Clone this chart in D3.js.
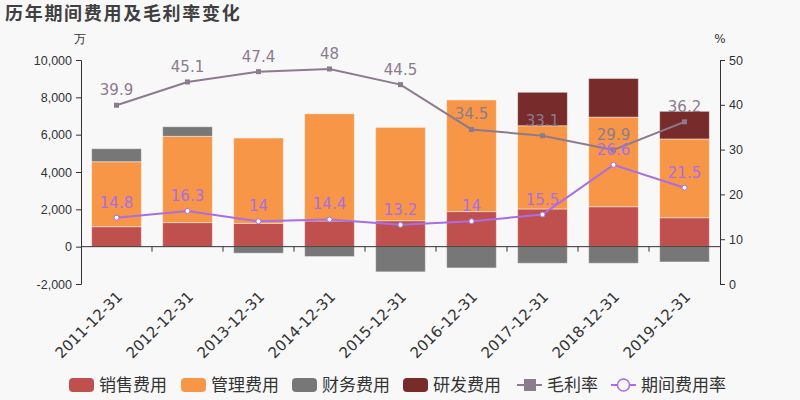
<!DOCTYPE html>
<html>
<head>
<meta charset="utf-8">
<script src="https://cdn.jsdelivr.net/npm/d3@7"></script>
<style>
  body { margin: 0; background: #f8f8f8; }
  svg { display: block; font-family: "DejaVu Sans", sans-serif; }
</style>
</head>
<body>
<script>
const WIDTH = 800;
const HEIGHT = 400;

// 数据
const years = ["2011-12-31", "2012-12-31", "2013-12-31", "2014-12-31", "2015-12-31",
  "2016-12-31", "2017-12-31", "2018-12-31", "2019-12-31"];
const xiaoshou = [1070, 1290, 1250, 1380, 1390, 1880, 2020, 2140, 1550];
const guanli = [3480, 4620, 4570, 5740, 5000, 5980, 4460, 4800, 4220];
const caiwu = [700, 515, -350, -530, -1350, -1140, -890, -890, -820];
const yanfa = [0, 0, 0, 0, 0, 0, 1790, 2070, 1480];
const maolilv = [39.9, 45.1, 47.4, 48, 44.5, 34.5, 33.1, 29.9, 36.2];
const qijianlv = [14.8, 16.3, 14, 14.4, 13.2, 14, 15.5, 26.6, 21.5];
const leftTicks = [-2000, 0, 2000, 4000, 6000, 8000, 10000];
const rightTicks = [0, 10, 20, 30, 40, 50];

const series = [
  { key: "xiaoshou", nombre: "销售费用", color: "#c0504d", valores: xiaoshou },
  { key: "guanli", nombre: "管理费用", color: "#f79646", valores: guanli },
  { key: "caiwu", nombre: "财务费用", color: "#777777", valores: caiwu },
  { key: "yanfa", nombre: "研发费用", color: "#772b2b", valores: yanfa }
];
const COLOR_MAOLI = "#8c7b8e";
const COLOR_QIJIAN = "#a96de6";

const SVG = d3.select("body").append("svg")
  .attr("width", WIDTH).attr("height", HEIGHT);

const LEFT = 81, RIGHT = 720, TOP = 60, BOTTOM = 284;

const x = d3.scaleBand().domain(years).range([LEFT, RIGHT]);
const y = d3.scaleLinear().domain([-2000, 10000]).range([BOTTOM, TOP]);
const y2 = d3.scaleLinear().domain([0, 50]).range([BOTTOM, TOP]);
const cx = (d) => x(d) + x.bandwidth() / 2;

// titulo
SVG.append("text").attr("x", 5).attr("y", 20)
  .attr("font-size", 18).attr("font-weight", "bold").attr("fill", "#404040")
  .attr("letter-spacing", 1.7)
  .attr("font-family", "'Noto Sans CJK SC', sans-serif")
  .text("历年期间费用及毛利率变化");

SVG.append("text").attr("x", LEFT - 1).attr("y", 43).attr("text-anchor", "middle")
  .attr("font-size", 12).attr("fill", "#333").text("万");
SVG.append("text").attr("x", RIGHT).attr("y", 43).attr("text-anchor", "middle")
  .attr("font-size", 12).attr("fill", "#333").text("%");

// tabla para apilar
const tabla = years.map((yr, i) => {
  const fila = { year: yr };
  series.forEach((s) => { fila[s.key] = s.valores[i]; });
  return fila;
});
const apilado = d3.stack().keys(series.map((s) => s.key))
  .offset(d3.stackOffsetDiverging)(tabla);

const bw = x.bandwidth() * 0.7;
SVG.append("g").selectAll("g")
  .data(apilado)
  .join("g")
  .attr("fill", (d, i) => series[i].color)
  .selectAll("rect")
  .data((d) => d.filter((p) => p[1] !== p[0]))
  .join("rect")
  .attr("x", (d) => cx(d.data.year) - bw / 2)
  .attr("width", bw)
  .attr("y", (d) => y(Math.max(d[0], d[1])))
  .attr("height", (d) => Math.abs(y(d[0]) - y(d[1])))
  .attr("stroke", "rgba(255,255,255,0.45)")
  .attr("stroke-width", 1);

// ejes
const fmt = (d) => d3.format(",")(d).replace("−", "-");
const ejeIzq = SVG.append("g").attr("transform", `translate(${LEFT},0)`)
  .call(d3.axisLeft(y).tickValues(leftTicks).tickFormat(fmt).tickSizeOuter(0).tickSize(5).tickPadding(4));
const ejeDer = SVG.append("g").attr("transform", `translate(${RIGHT},0)`)
  .call(d3.axisRight(y2).tickValues(rightTicks).tickSizeOuter(0).tickSize(5).tickPadding(4));
[ejeIzq, ejeDer].forEach((g) => {
  g.select(".domain").attr("stroke", "#333");
  g.selectAll(".tick line").attr("stroke", "#333");
  g.selectAll(".tick text").attr("fill", "#333").attr("font-size", 12.5);
});

// eje x en cero
const xLinea = SVG.append("g").attr("transform", `translate(0,${y(0)})`);
xLinea.append("line").attr("x1", LEFT).attr("x2", RIGHT).attr("stroke", "#333");
xLinea.selectAll("line.t").data(years.slice(1)).join("line").attr("class", "t")
  .attr("x1", (d) => x(d)).attr("x2", (d) => x(d)).attr("y1", 0).attr("y2", 5)
  .attr("stroke", "#333");

SVG.append("g").selectAll("text")
  .data(years)
  .join("text")
  .attr("transform", (d) => `translate(${cx(d) + 3},${BOTTOM + 10}) rotate(-45)`)
  .attr("text-anchor", "end")
  .attr("dy", "0.35em")
  .attr("font-size", 15)
  .attr("fill", "#333")
  .text((d) => d);

// lineas
const linea = (yy) => d3.line().x((d, i) => cx(years[i])).y((d) => yy(d));

SVG.append("path").datum(maolilv).attr("d", linea(y2))
  .attr("fill", "none").attr("stroke", COLOR_MAOLI).attr("stroke-width", 2);
SVG.append("g").selectAll("rect").data(maolilv).join("rect")
  .attr("x", (d, i) => cx(years[i]) - 2.5).attr("y", (d) => y2(d) - 2.5)
  .attr("width", 5).attr("height", 5).attr("fill", COLOR_MAOLI);

SVG.append("path").datum(qijianlv).attr("d", linea(y2))
  .attr("fill", "none").attr("stroke", COLOR_QIJIAN).attr("stroke-width", 2);
SVG.append("g").selectAll("circle").data(qijianlv).join("circle")
  .attr("cx", (d, i) => cx(years[i])).attr("cy", (d) => y2(d))
  .attr("r", 2.5).attr("fill", "#fff").attr("stroke", COLOR_QIJIAN).attr("stroke-width", 1);

// etiquetas
SVG.append("g").selectAll("text").data(maolilv).join("text")
  .attr("x", (d, i) => cx(years[i])).attr("y", (d) => y2(d) - 10)
  .attr("text-anchor", "middle").attr("font-size", 15).attr("fill", COLOR_MAOLI)
  .text((d) => d);
SVG.append("g").selectAll("text").data(qijianlv).join("text")
  .attr("x", (d, i) => cx(years[i])).attr("y", (d) => y2(d) - 10)
  .attr("text-anchor", "middle").attr("font-size", 15).attr("fill", COLOR_QIJIAN)
  .text((d) => d);

// leyenda
const leyenda = [
  ...series.map((s) => ({ nombre: s.nombre, color: s.color, tipo: "bar" })),
  { nombre: "毛利率", color: COLOR_MAOLI, tipo: "maoli" },
  { nombre: "期间费用率", color: COLOR_QIJIAN, tipo: "qijian" }
];
const leyX = [69, 181, 292, 403, 517, 611];
const LY = 385;
const items = SVG.append("g").selectAll("g").data(leyenda).join("g")
  .attr("transform", (d, i) => `translate(${leyX[i]},${LY})`);
items.filter((d) => d.tipo === "bar").append("rect")
  .attr("x", 0).attr("y", -7).attr("width", 25).attr("height", 14).attr("rx", 4)
  .attr("fill", (d) => d.color);
items.filter((d) => d.tipo !== "bar").append("line")
  .attr("x1", 0).attr("x2", 25).attr("stroke", (d) => d.color).attr("stroke-width", 2);
items.filter((d) => d.tipo === "maoli").append("rect")
  .attr("x", 7).attr("y", -6).attr("width", 12).attr("height", 12).attr("fill", (d) => d.color);
items.filter((d) => d.tipo === "qijian").append("circle")
  .attr("cx", 12.5).attr("r", 6).attr("fill", "#f8f8f8").attr("stroke", (d) => d.color).attr("stroke-width", 1.5);
items.append("text").attr("x", 30).attr("dy", "0.35em")
  .attr("font-size", 17).attr("fill", "#333")
  .attr("font-family", "'Noto Sans CJK SC', sans-serif")
  .text((d) => d.nombre);
</script>
</body>
</html>
